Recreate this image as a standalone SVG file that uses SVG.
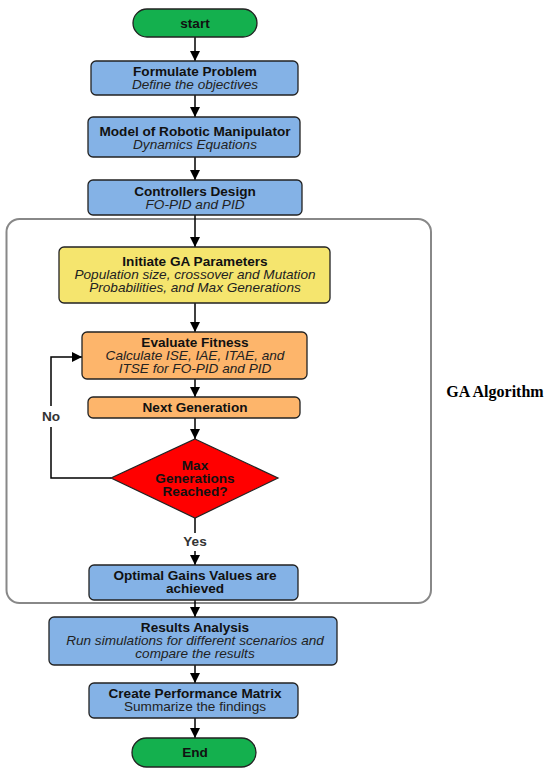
<svg xmlns="http://www.w3.org/2000/svg" width="550" height="777" viewBox="0 0 550 777">
<defs>
<marker id="ah" viewBox="0 0 10 10" refX="10" refY="5" markerWidth="10" markerHeight="10" markerUnits="userSpaceOnUse" orient="auto">
<path d="M0,0 L10,5 L0,10 z" fill="#000"/>
</marker>
<style>
.box{stroke:#222;stroke-width:1.3}
.blue{fill:#84B2E6}
.green{fill:#14B04E}
.yellow{fill:#F5E56E}
.orange{fill:#FDB56B}
.t{font-family:"Liberation Sans",Arial,sans-serif;font-size:13.6px;font-weight:bold;fill:#111;text-anchor:middle}
.s{font-family:"Liberation Sans",Arial,sans-serif;font-size:13.6px;font-style:italic;fill:#222;text-anchor:middle}
.n{font-family:"Liberation Sans",Arial,sans-serif;font-size:13.6px;fill:#222;text-anchor:middle}
.lbl{font-family:"Liberation Sans",Arial,sans-serif;font-size:13.6px;font-weight:bold;fill:#333;text-anchor:middle}
.c{fill:none;stroke:#000;stroke-width:1.5}
</style>
</defs>
<rect width="550" height="777" fill="#fff"/>

<g id="ga-container">
<rect x="6.5" y="219" width="424.5" height="384" rx="13" fill="none" stroke="#888" stroke-width="2"/>
<text x="495" y="397" font-family="Liberation Serif,Times New Roman,serif" font-size="16" font-weight="bold" fill="#000" text-anchor="middle">GA Algorithm</text>
</g>

<g id="connectors">
<path class="c" d="M195,37 V61" marker-end="url(#ah)"/>
<path class="c" d="M195,95 V117" marker-end="url(#ah)"/>
<path class="c" d="M195,157 V180" marker-end="url(#ah)"/>
<path class="c" d="M195,215 V247" marker-end="url(#ah)"/>
<path class="c" d="M195,303 V332" marker-end="url(#ah)"/>
<path class="c" d="M195,379 V397" marker-end="url(#ah)"/>
<path class="c" d="M195,418 V439" marker-end="url(#ah)"/>
<path class="c" d="M195,518 V533"/>
<path class="c" d="M195,551 V565" marker-end="url(#ah)"/>
<path class="c" d="M111,478 H51 V427"/>
<path class="c" d="M51,406 V357 H82" marker-end="url(#ah)"/>
<path class="c" d="M195,600 V617" marker-end="url(#ah)"/>
<path class="c" d="M195,665 V683" marker-end="url(#ah)"/>
<path class="c" d="M195,718 V738" marker-end="url(#ah)"/>
<text class="lbl" x="51" y="421">No</text>
<text class="lbl" x="195" y="546">Yes</text>
</g>

<g id="start">
<rect class="box green" x="133" y="9" width="124" height="28" rx="14"/>
<text class="t" x="195" y="28">start</text>
</g>

<g id="formulate">
<rect class="box blue" x="91" y="61" width="207" height="34" rx="5"/>
<text class="t" x="195" y="76">Formulate Problem</text>
<text class="s" x="195" y="89">Define the objectives</text>
</g>

<g id="model">
<rect class="box blue" x="88" y="117" width="212" height="40" rx="5"/>
<text class="t" x="195" y="136">Model of Robotic Manipulator</text>
<text class="s" x="195" y="149">Dynamics Equations</text>
</g>

<g id="controllers">
<rect class="box blue" x="88" y="180" width="214" height="35" rx="5"/>
<text class="t" x="195" y="196">Controllers Design</text>
<text class="s" x="195" y="209">FO-PID and PID</text>
</g>

<g id="initiate">
<rect class="box yellow" x="59" y="247" width="271" height="56" rx="5"/>
<text class="t" x="195" y="266">Initiate GA Parameters</text>
<text class="s" x="195" y="279">Population size, crossover and Mutation</text>
<text class="s" x="195" y="292">Probabilities, and Max Generations</text>
</g>

<g id="evaluate">
<rect class="box orange" x="82" y="332" width="225" height="47" rx="5"/>
<text class="t" x="195" y="347">Evaluate Fitness</text>
<text class="s" x="195" y="360">Calculate ISE, IAE, ITAE, and</text>
<text class="s" x="195" y="373">ITSE for FO-PID and PID</text>
</g>

<g id="next">
<rect class="box orange" x="88" y="397" width="212" height="21" rx="5"/>
<text class="t" x="195" y="412">Next Generation</text>
</g>

<g id="decision">
<polygon points="195,439 278,478 195,518 111,478" fill="#FF0000" stroke="#222" stroke-width="1.2"/>
<text class="t" x="195" y="470">Max</text>
<text class="t" x="195" y="483">Generations</text>
<text class="t" x="195" y="496">Reached?</text>
</g>

<g id="optimal">
<rect class="box blue" x="89" y="565" width="209" height="35" rx="5"/>
<text class="t" x="195" y="580">Optimal Gains Values are</text>
<text class="t" x="195" y="593">achieved</text>
</g>

<g id="results">
<rect class="box blue" x="49" y="617" width="288" height="48" rx="5"/>
<text class="t" x="195" y="632">Results Analysis</text>
<text class="s" x="195" y="645">Run simulations for different scenarios and</text>
<text class="s" x="195" y="658">compare the results</text>
</g>

<g id="matrix">
<rect class="box blue" x="89" y="683" width="209" height="35" rx="5"/>
<text class="t" x="195" y="698">Create Performance Matrix</text>
<text class="n" x="195" y="711">Summarize the findings</text>
</g>

<g id="end">
<rect class="box green" x="132" y="738" width="124" height="29" rx="14.5"/>
<text class="t" x="195" y="757">End</text>
</g>
</svg>
